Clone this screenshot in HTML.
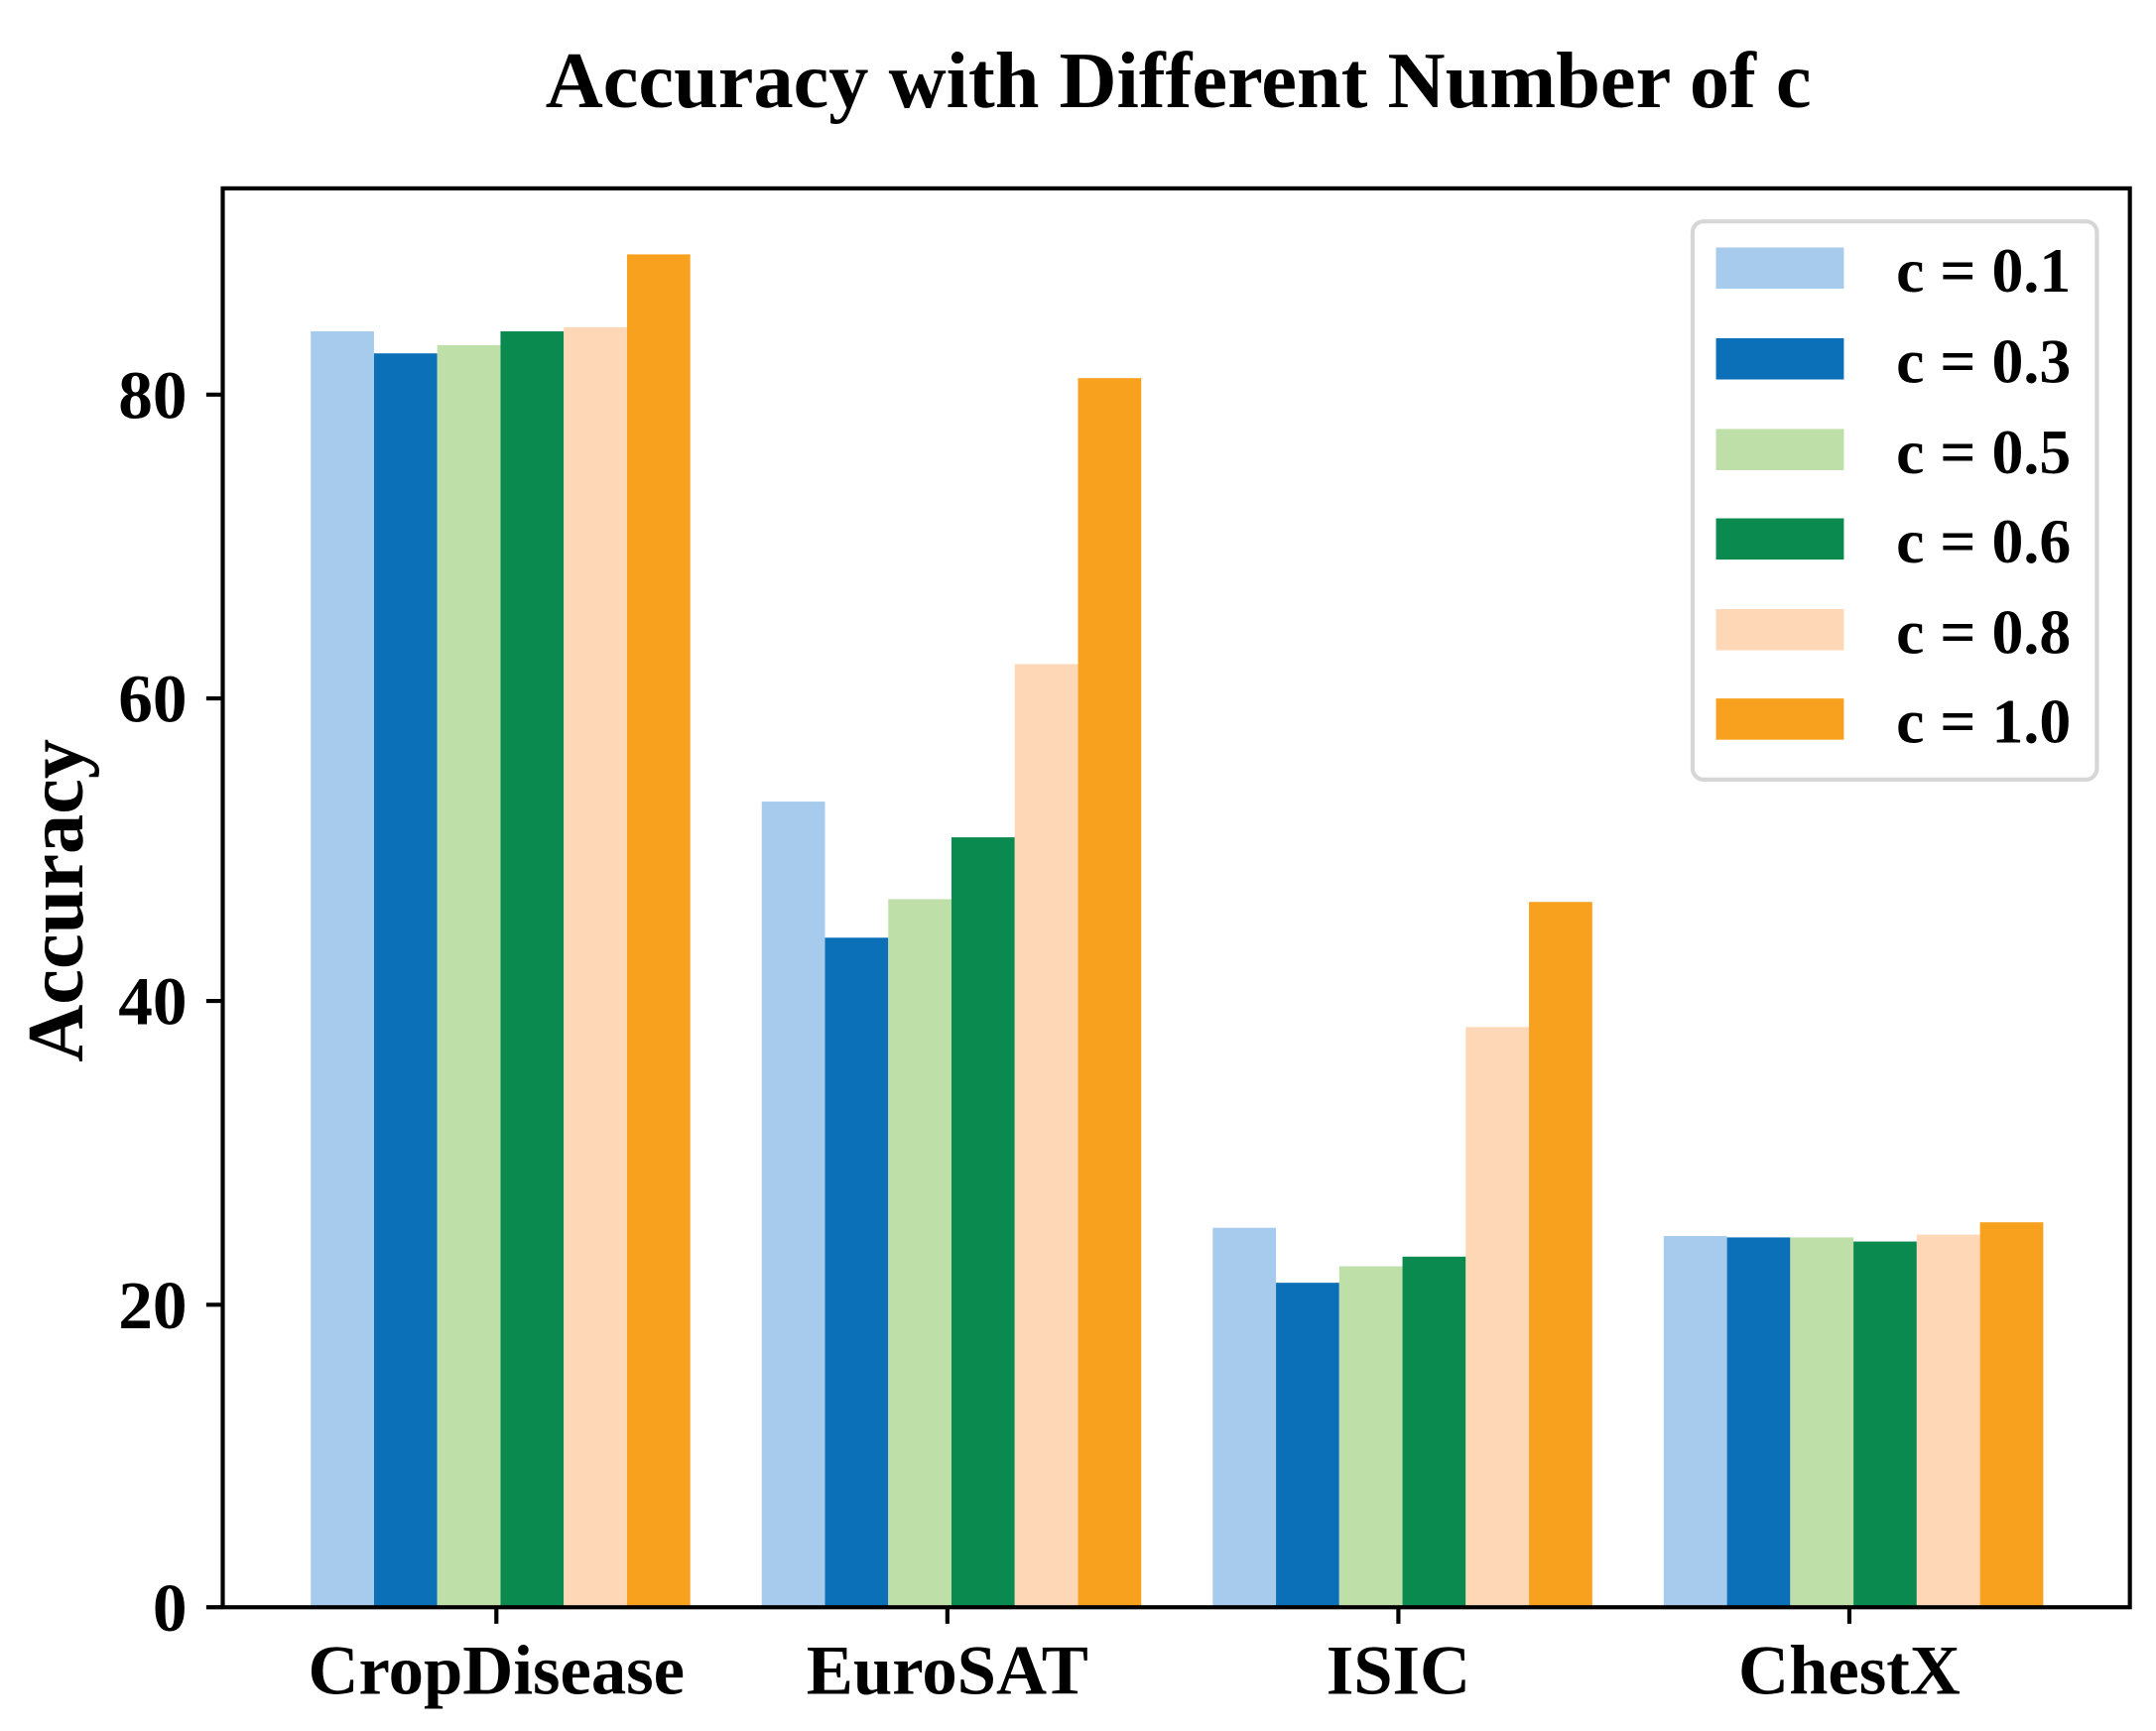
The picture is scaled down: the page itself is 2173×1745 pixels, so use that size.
<!DOCTYPE html>
<html><head><meta charset="utf-8"><style>html,body{margin:0;padding:0;background:#fff}svg{display:block}</style></head>
<body>
<svg width="2173" height="1745" viewBox="0 0 1568 1259" preserveAspectRatio="none" xmlns="http://www.w3.org/2000/svg" font-family="Liberation Serif, serif" font-weight="bold">
<text x="857" y="78" font-size="58" text-anchor="middle">Accuracy with Different Number of c</text>
<g id="bars">
<rect x="226" y="241" width="46" height="928" fill="#a6cbec"/>
<rect x="272" y="257" width="46" height="912" fill="#0c70b8"/>
<rect x="318" y="251" width="46" height="918" fill="#bfdfa8"/>
<rect x="364" y="241" width="46" height="928" fill="#0b8a50"/>
<rect x="410" y="238" width="46" height="931" fill="#fdd7b6"/>
<rect x="456" y="185" width="46" height="984" fill="#f7a11e"/>
<rect x="554" y="583" width="46" height="586" fill="#a6cbec"/>
<rect x="600" y="682" width="46" height="487" fill="#0c70b8"/>
<rect x="646" y="654" width="46" height="515" fill="#bfdfa8"/>
<rect x="692" y="609" width="46" height="560" fill="#0b8a50"/>
<rect x="738" y="483" width="46" height="686" fill="#fdd7b6"/>
<rect x="784" y="275" width="46" height="894" fill="#f7a11e"/>
<rect x="882" y="893" width="46" height="276" fill="#a6cbec"/>
<rect x="928" y="933" width="46" height="236" fill="#0c70b8"/>
<rect x="974" y="921" width="46" height="248" fill="#bfdfa8"/>
<rect x="1020" y="914" width="46" height="255" fill="#0b8a50"/>
<rect x="1066" y="747" width="46" height="422" fill="#fdd7b6"/>
<rect x="1112" y="656" width="46" height="513" fill="#f7a11e"/>
<rect x="1210" y="899" width="46" height="270" fill="#a6cbec"/>
<rect x="1256" y="900" width="46" height="269" fill="#0c70b8"/>
<rect x="1302" y="900" width="46" height="269" fill="#bfdfa8"/>
<rect x="1348" y="903" width="46" height="266" fill="#0b8a50"/>
<rect x="1394" y="898" width="46" height="271" fill="#fdd7b6"/>
<rect x="1440" y="889" width="46" height="280" fill="#f7a11e"/>
</g>
<rect x="162" y="137" width="1387" height="1032" fill="none" stroke="#000" stroke-width="3"/>
<g stroke="#000" stroke-width="3">
<line x1="150" y1="1169" x2="162" y2="1169"/>
<line x1="150" y1="949" x2="162" y2="949"/>
<line x1="150" y1="728" x2="162" y2="728"/>
<line x1="150" y1="508" x2="162" y2="508"/>
<line x1="150" y1="287" x2="162" y2="287"/>
<line x1="361" y1="1169" x2="361" y2="1181"/>
<line x1="689" y1="1169" x2="689" y2="1181"/>
<line x1="1017" y1="1169" x2="1017" y2="1181"/>
<line x1="1345" y1="1169" x2="1345" y2="1181"/>
</g>
<g font-size="50" text-anchor="end">
<text x="136" y="1186">0</text>
<text x="136" y="966">20</text>
<text x="136" y="745">40</text>
<text x="136" y="525">60</text>
<text x="136" y="304">80</text>
</g>
<g font-size="51" text-anchor="middle">
<text x="361" y="1232">CropDisease</text>
<text x="689" y="1232">EuroSAT</text>
<text x="1017" y="1232">ISIC</text>
<text x="1345" y="1232">ChestX</text>
</g>
<text transform="translate(60,655) rotate(-90)" font-size="58" text-anchor="middle">Accuracy</text>
<rect x="1231" y="161" width="294" height="406" rx="8" fill="#fff" stroke="#d6d6d6" stroke-width="3"/>
<rect x="1248" y="180" width="93" height="30" fill="#a6cbec"/>
<rect x="1248" y="246" width="93" height="30" fill="#0c70b8"/>
<rect x="1248" y="312" width="93" height="30" fill="#bfdfa8"/>
<rect x="1248" y="377" width="93" height="30" fill="#0b8a50"/>
<rect x="1248" y="443" width="93" height="30" fill="#fdd7b6"/>
<rect x="1248" y="508" width="93" height="30" fill="#f7a11e"/>
<g font-size="46">
<text x="1379" y="212">c = 0.1</text>
<text x="1379" y="278">c = 0.3</text>
<text x="1379" y="344">c = 0.5</text>
<text x="1379" y="409">c = 0.6</text>
<text x="1379" y="475">c = 0.8</text>
<text x="1379" y="540">c = 1.0</text>
</g>
</svg>
</body></html>
